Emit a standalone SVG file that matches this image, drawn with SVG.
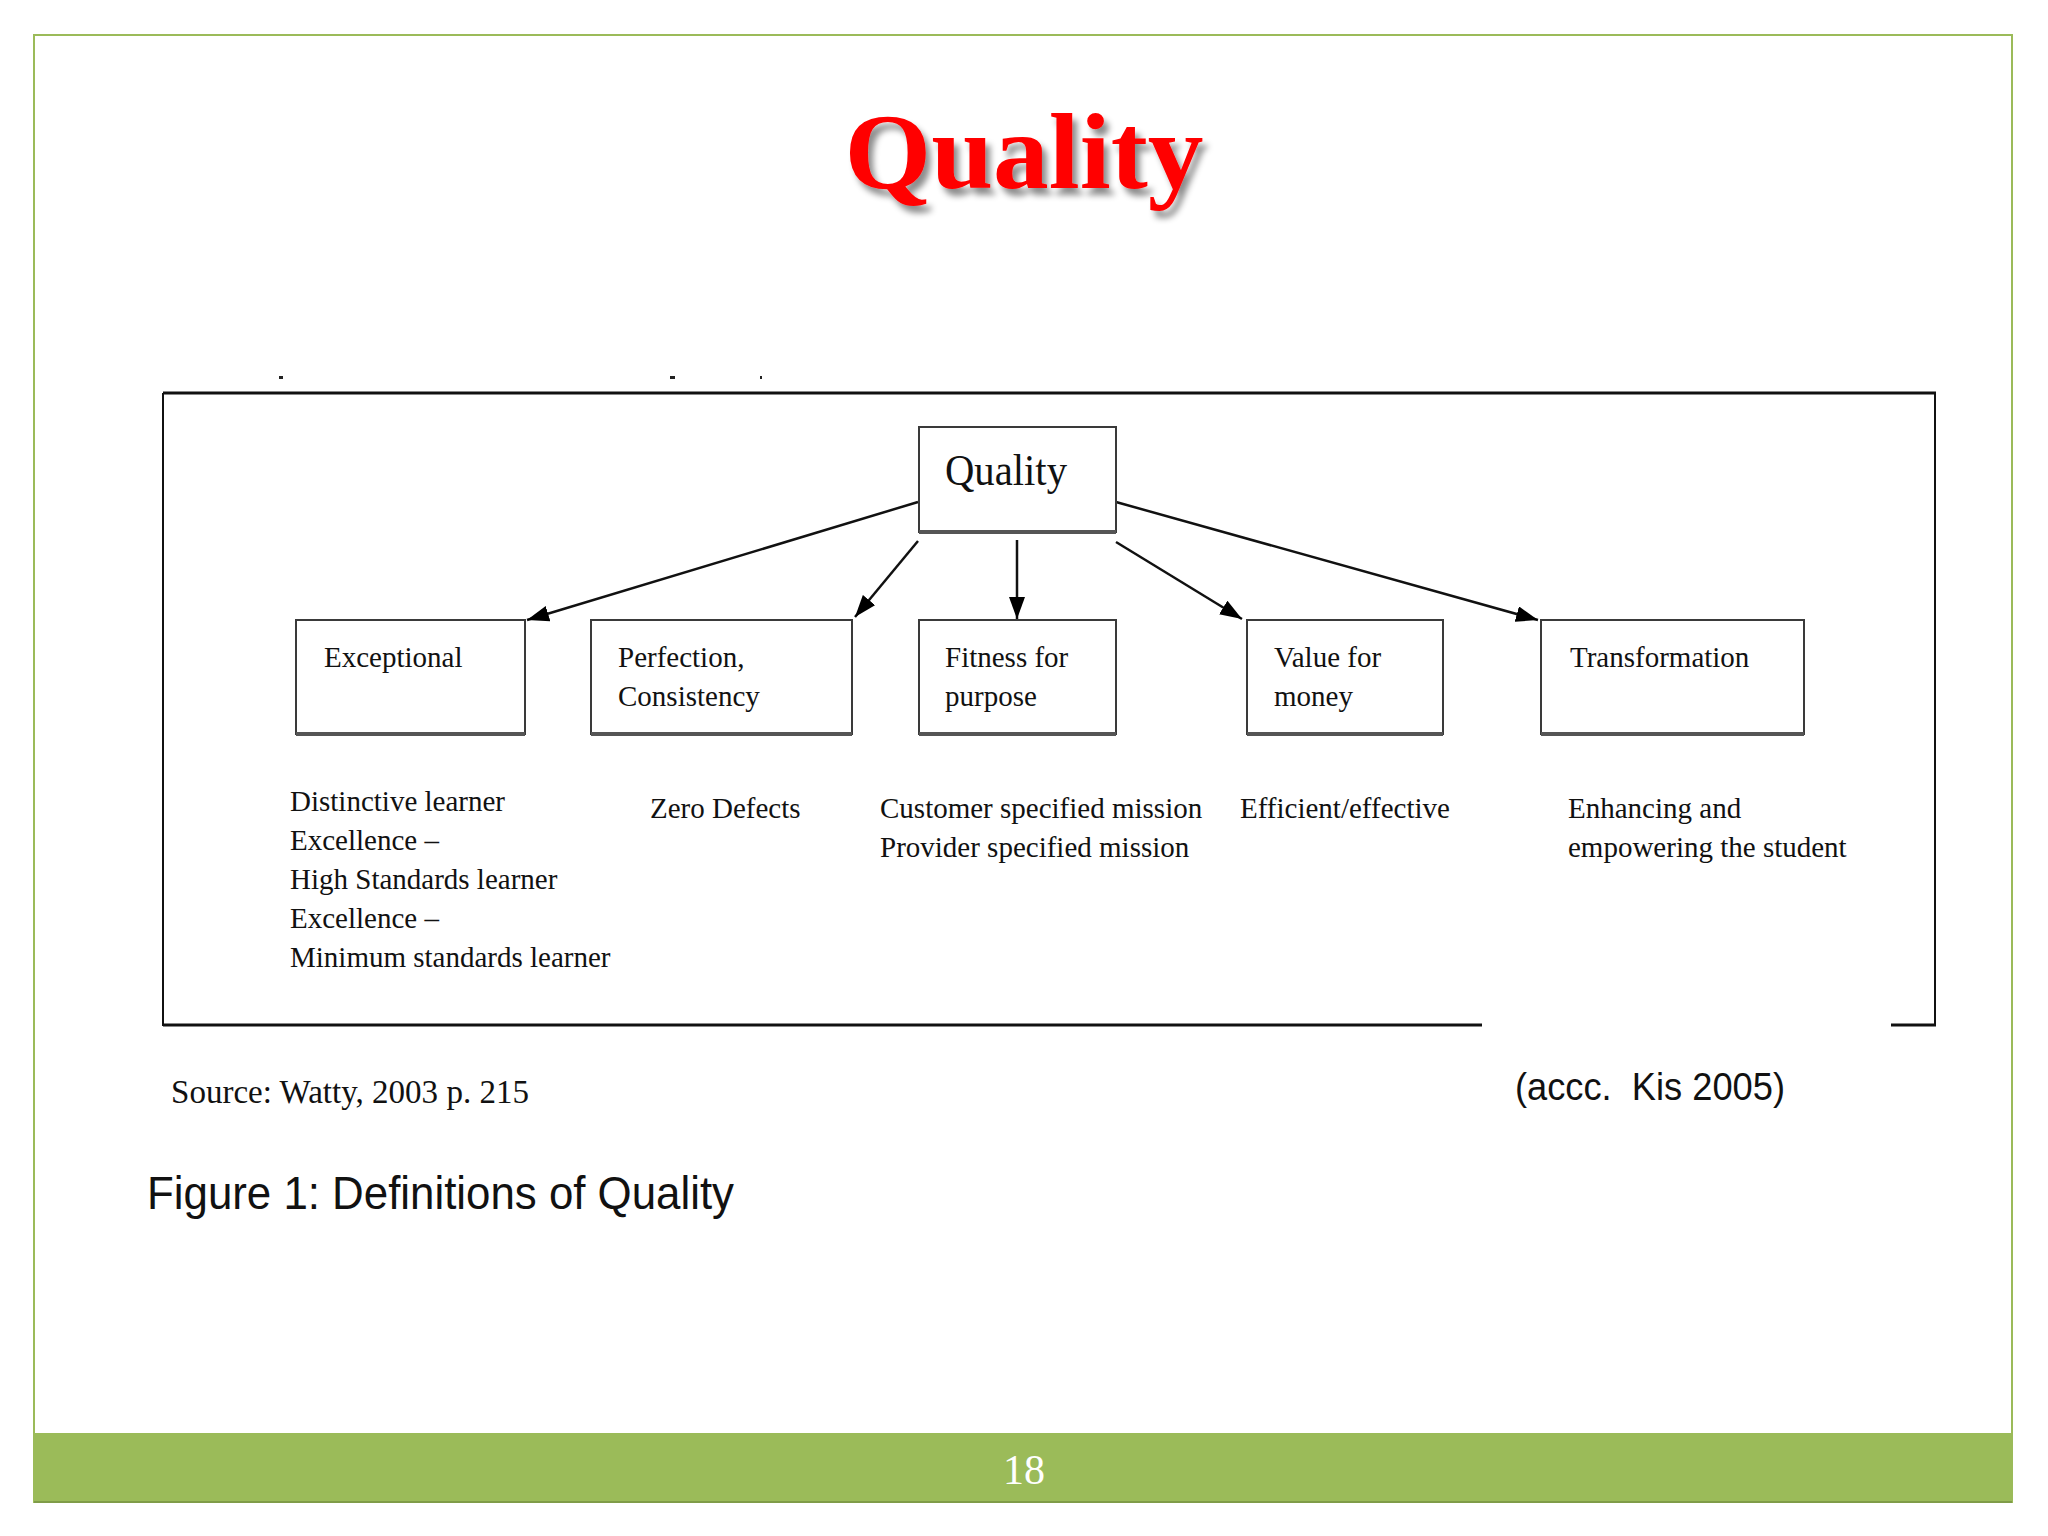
<svg xmlns="http://www.w3.org/2000/svg" width="2048" height="1536" viewBox="0 0 2048 1536">
<defs>
<style>
.box{fill:#fff;stroke:#3a3a3a;stroke-width:2}
.boxb{stroke:#555;stroke-width:4}
.t{font-family:"Liberation Serif","Times New Roman",serif;font-size:29px;fill:#111}
.lbl{font-family:"Liberation Serif","Times New Roman",serif;font-size:29px;fill:#111}
.sans{font-family:"Liberation Sans",Arial,sans-serif;fill:#111}
.conn{stroke:#111;stroke-width:2.5;fill:none;marker-end:url(#ah)}
.frame{stroke:#111;fill:none}
</style>
<marker id="ah" viewBox="0 0 22 16" refX="22" refY="8" markerWidth="22" markerHeight="16" markerUnits="userSpaceOnUse" orient="auto">
<path d="M0,0 L22,8 L0,16 z" fill="#000"/>
</marker>
<filter id="sh" x="-10%" y="-10%" width="130%" height="140%">
<feDropShadow dx="5" dy="7" stdDeviation="3" flood-color="#000" flood-opacity="0.45"/>
</filter>
</defs>
<rect x="0" y="0" width="2048" height="1536" fill="#fff"/>
<!-- slide frame -->
<rect x="34" y="35" width="1978" height="1467" fill="none" stroke="#9BBB59" stroke-width="2"/>
<rect x="34" y="1433" width="1978" height="69" fill="#9BBB59"/>
<line x1="34" y1="1502" x2="2012" y2="1502" stroke="#7f9c48" stroke-width="2"/>
<text x="1024" y="1484" text-anchor="middle" font-family="Liberation Serif,serif" font-size="42" fill="#fff">18</text>
<!-- title -->
<text id="title" x="1024" y="188" text-anchor="middle" font-family="'Liberation Serif','Times New Roman',serif" font-weight="bold" font-size="108" fill="#ff0000" filter="url(#sh)" textLength="359" lengthAdjust="spacingAndGlyphs">Quality</text>
<!-- small marks -->
<rect x="279" y="376" width="4" height="3" fill="#222"/>
<rect x="670" y="376" width="5" height="3" fill="#222"/>
<rect x="760" y="376" width="2" height="3" fill="#222"/>
<!-- figure frame -->
<g id="figure-frame">
<line class="frame" x1="163" y1="393" x2="1936" y2="393" stroke-width="3"/>
<line class="frame" x1="163" y1="393" x2="163" y2="1026" stroke-width="2"/>
<line class="frame" x1="1935" y1="393" x2="1935" y2="1026" stroke-width="2"/>
<line class="frame" x1="163" y1="1025" x2="1482" y2="1025" stroke-width="3"/>
<line class="frame" x1="1891" y1="1025" x2="1936" y2="1025" stroke-width="3"/>
</g>
<!-- connectors -->
<g id="connectors">
<line class="conn" x1="918" y1="502" x2="527" y2="620"/>
<line class="conn" x1="918" y1="541" x2="855" y2="617"/>
<line class="conn" x1="1017" y1="540" x2="1017" y2="619"/>
<line class="conn" x1="1116" y1="542" x2="1242" y2="619"/>
<line class="conn" x1="1116" y1="502" x2="1538" y2="620"/>
</g>
<!-- nodes -->
<g id="node-quality">
<rect class="box" x="919" y="427" width="197" height="105"/>
<line class="boxb" x1="919" y1="532" x2="1116" y2="532"/>
<text class="t" x="945" y="485" style="font-size:44px" textLength="122" lengthAdjust="spacingAndGlyphs">Quality</text>
</g>
<g id="node-exceptional">
<rect class="box" x="296" y="620" width="229" height="114"/>
<line class="boxb" x1="296" y1="734" x2="525" y2="734"/>
<text class="t" x="324" y="667">Exceptional</text>
</g>
<g id="node-perfection">
<rect class="box" x="591" y="620" width="261" height="114"/>
<line class="boxb" x1="591" y1="734" x2="852" y2="734"/>
<text class="t" x="618" y="667">Perfection,</text>
<text class="t" x="618" y="706">Consistency</text>
</g>
<g id="node-fitness">
<rect class="box" x="919" y="620" width="197" height="114"/>
<line class="boxb" x1="919" y1="734" x2="1116" y2="734"/>
<text class="t" x="945" y="667">Fitness for</text>
<text class="t" x="945" y="706">purpose</text>
</g>
<g id="node-value">
<rect class="box" x="1247" y="620" width="196" height="114"/>
<line class="boxb" x1="1247" y1="734" x2="1443" y2="734"/>
<text class="t" x="1274" y="667">Value for</text>
<text class="t" x="1274" y="706">money</text>
</g>
<g id="node-transformation">
<rect class="box" x="1541" y="620" width="263" height="114"/>
<line class="boxb" x1="1541" y1="734" x2="1804" y2="734"/>
<text class="t" x="1570" y="667">Transformation</text>
</g>
<!-- descriptions -->
<g id="desc-exceptional">
<text class="lbl" x="290" y="811">Distinctive learner</text>
<text class="lbl" x="290" y="850">Excellence –</text>
<text class="lbl" x="290" y="889">High Standards learner</text>
<text class="lbl" x="290" y="928">Excellence –</text>
<text class="lbl" x="290" y="967">Minimum standards learner</text>
</g>
<g id="desc-perfection">
<text class="lbl" x="650" y="818">Zero Defects</text>
</g>
<g id="desc-fitness">
<text class="lbl" x="880" y="818">Customer specified mission</text>
<text class="lbl" x="880" y="857">Provider specified mission</text>
</g>
<g id="desc-value">
<text class="lbl" x="1240" y="818">Efficient/effective</text>
</g>
<g id="desc-transformation">
<text class="lbl" x="1568" y="818">Enhancing and</text>
<text class="lbl" x="1568" y="857">empowering the student</text>
</g>
<!-- captions -->
<text class="lbl" x="171" y="1103" style="font-size:33px" textLength="358" lengthAdjust="spacingAndGlyphs">Source: Watty, 2003 p. 215</text>
<text class="sans" x="1515" y="1100" style="font-size:38px" textLength="270" lengthAdjust="spacingAndGlyphs" xml:space="preserve">(accc.  Kis 2005)</text>
<text class="sans" x="147" y="1209" style="font-size:46px" textLength="587" lengthAdjust="spacingAndGlyphs">Figure 1: Definitions of Quality</text>
</svg>
